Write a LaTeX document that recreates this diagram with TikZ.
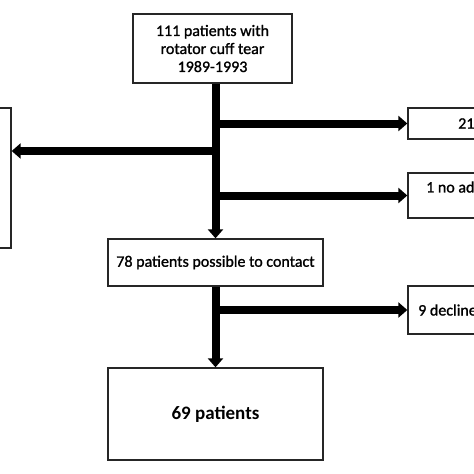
\documentclass[tikz,border=0pt]{standalone}
\usepackage{fontspec}
\setmainfont{Carlito}
\newfontface\heavyface{Carlito}[FakeBold=1.2]
\usetikzlibrary{arrows.meta}
\begin{document}
\begin{tikzpicture}[x=1pt,y=-1pt,
  box/.style={draw=black!85, line width=1.3pt, rectangle, inner sep=0pt},
  flow/.style={line width=8pt, -{Triangle[width=15pt,length=9pt]}},
  lbl/.style={font=\heavyface\fontsize{16}{18}\selectfont, inner sep=0pt}]
\useasboundingbox (0,0) rectangle (474,474);
\clip (0,0) rectangle (474,474);
\node[box, lbl, minimum width=159pt, minimum height=69pt, align=center] (top) at (212.5,48.5) {111 patients with\\rotator cuff tear\\1989-1993};
\node[box, lbl, minimum width=215pt, minimum height=47pt] (mid) at (215.5,262.5) {78 patients possible to contact};
\node[box, minimum width=215pt, minimum height=92pt, font=\bfseries\fontsize{19}{22}\selectfont] (bot) at (215.5,414) {69 patients};
\node[box, minimum width=71pt, minimum height=140pt] (left) at (-24.5,178) {};
\node[box, minimum width=132pt, minimum height=31pt] (r1) at (474,123.5) {};
\node[box, minimum width=132pt, minimum height=45pt] (r2) at (474,195.5) {};
\node[box, minimum width=132pt, minimum height=48pt] (r3) at (474,310) {};
\node[lbl, anchor=west] (t1) at (458,123.5) {21};
\node[lbl, anchor=west] (t2) at (426,187) {1 no ad};
\node[lbl, anchor=west] (t3) at (418,310) {9 decline};
\coordinate (b1) at (mid.north |- r1.west);
\coordinate (bl) at (216,151);
\coordinate (b2) at (mid.north |- r2.west);
\coordinate (b3) at (mid.south |- r3.west);
\draw[flow] (top.south -| mid.north) -- (mid.north);
\draw[flow] (b1) -- (r1.west);
\draw[flow] (bl) -- (bl -| left.east);
\draw[flow] (b2) -- (r2.west);
\draw[flow] (mid.south) -- (bot.north);
\draw[flow] (b3) -- (r3.west);
\end{tikzpicture}
\end{document}
